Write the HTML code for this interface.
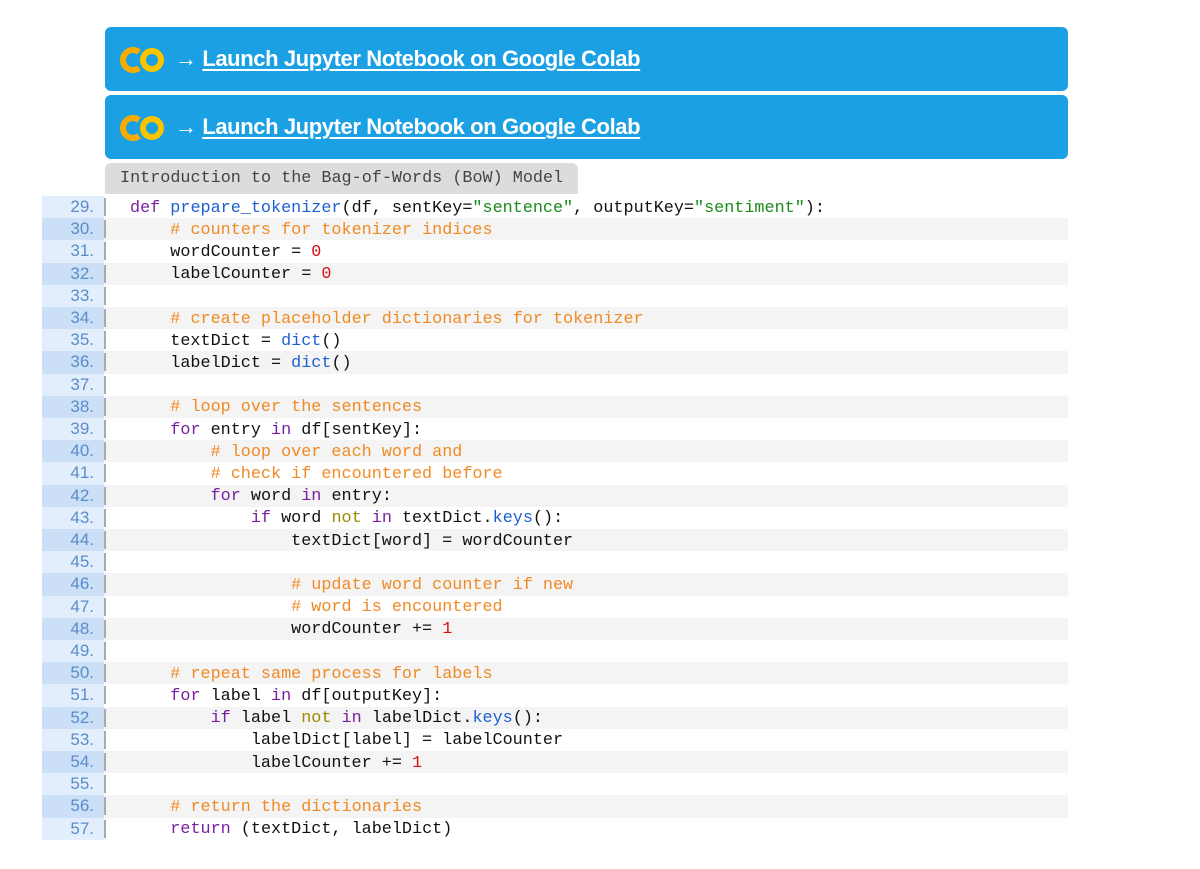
<!DOCTYPE html>
<html><head><meta charset="utf-8"><style>
body{margin:0;width:1200px;height:869px;background:#fff;position:relative;overflow:hidden;font-family:"Liberation Sans",sans-serif}
.bn{position:absolute;left:105px;width:963px;height:64px;background:#1ba0e4;border-radius:6px}
.bn svg{position:absolute;left:14px;top:19px}
.bn .t{position:absolute;left:70px;top:19px;color:#fff;font-weight:bold;font-size:22px;letter-spacing:-0.4px}
.bn .t u{text-decoration-thickness:2px;text-underline-offset:3px}
.tab{position:absolute;left:105px;top:163px;width:473px;height:31px;background:#dcdcdc;border-radius:6px 6px 0 0;font-family:"Liberation Mono",monospace;font-size:16.8px;color:#444;line-height:31px;padding-left:15px;box-sizing:border-box}
.r{position:absolute;left:42px;width:1026px;height:22.2px;font-family:"Liberation Mono",monospace;font-size:16.8px;line-height:22.2px;white-space:pre;color:#111}
.r .g{position:absolute;left:0;top:0;width:62px;height:100%;background:#e2eefb;color:#5a8cc8;text-align:right;box-sizing:border-box;padding-right:10px;font-family:"Liberation Sans",sans-serif;font-size:17px}
.r .b{position:absolute;left:62px;top:2px;width:1.5px;height:18px;background:#aaa}
.r .c{position:absolute;left:88px;top:1.5px}
.r.e{background:#f4f4f4}
.r.e .g{background:#cbe0f6}
.k{color:#7b1fa2}.f{color:#1d5fd0}.s{color:#1a8a1a}.m{color:#f08a24}.n{color:#d81010}.o{color:#9a8a00}
</style></head><body>
<div class="bn" style="top:27px"><svg width="48" height="28" viewBox="0 0 48 28"><path d="M20 6 A10 10 0 1 0 20 22" fill="none" stroke="#f9ab00" stroke-width="6"/><circle cx="33" cy="14" r="9" fill="none" stroke="#f9c400" stroke-width="6"/></svg><div class="t">→ <u>Launch Jupyter Notebook on Google Colab</u></div></div>
<div class="bn" style="top:95px"><svg width="48" height="28" viewBox="0 0 48 28"><path d="M20 6 A10 10 0 1 0 20 22" fill="none" stroke="#f9ab00" stroke-width="6"/><circle cx="33" cy="14" r="9" fill="none" stroke="#f9c400" stroke-width="6"/></svg><div class="t">→ <u>Launch Jupyter Notebook on Google Colab</u></div></div>
<div class="tab">Introduction to the Bag-of-Words (BoW) Model</div>

<div class="r" style="top:196px"><div class="g">29.</div><div class="b"></div><div class="c"><span class="k">def</span> <span class="f">prepare_tokenizer</span>(df, sentKey=<span class="s">"sentence"</span>, outputKey=<span class="s">"sentiment"</span>):</div></div>
<div class="r e" style="top:218.2px"><div class="g">30.</div><div class="b"></div><div class="c">    <span class="m"># counters for tokenizer indices</span></div></div>
<div class="r" style="top:240.4px"><div class="g">31.</div><div class="b"></div><div class="c">    wordCounter = <span class="n">0</span></div></div>
<div class="r e" style="top:262.6px"><div class="g">32.</div><div class="b"></div><div class="c">    labelCounter = <span class="n">0</span></div></div>
<div class="r" style="top:284.8px"><div class="g">33.</div><div class="b"></div><div class="c"></div></div>
<div class="r e" style="top:307px"><div class="g">34.</div><div class="b"></div><div class="c">    <span class="m"># create placeholder dictionaries for tokenizer</span></div></div>
<div class="r" style="top:329.2px"><div class="g">35.</div><div class="b"></div><div class="c">    textDict = <span class="f">dict</span>()</div></div>
<div class="r e" style="top:351.4px"><div class="g">36.</div><div class="b"></div><div class="c">    labelDict = <span class="f">dict</span>()</div></div>
<div class="r" style="top:373.6px"><div class="g">37.</div><div class="b"></div><div class="c"></div></div>
<div class="r e" style="top:395.8px"><div class="g">38.</div><div class="b"></div><div class="c">    <span class="m"># loop over the sentences</span></div></div>
<div class="r" style="top:418px"><div class="g">39.</div><div class="b"></div><div class="c">    <span class="k">for</span> entry <span class="k">in</span> df[sentKey]:</div></div>
<div class="r e" style="top:440.2px"><div class="g">40.</div><div class="b"></div><div class="c">        <span class="m"># loop over each word and</span></div></div>
<div class="r" style="top:462.4px"><div class="g">41.</div><div class="b"></div><div class="c">        <span class="m"># check if encountered before</span></div></div>
<div class="r e" style="top:484.6px"><div class="g">42.</div><div class="b"></div><div class="c">        <span class="k">for</span> word <span class="k">in</span> entry:</div></div>
<div class="r" style="top:506.8px"><div class="g">43.</div><div class="b"></div><div class="c">            <span class="k">if</span> word <span class="o">not</span> <span class="k">in</span> textDict.<span class="f">keys</span>():</div></div>
<div class="r e" style="top:529px"><div class="g">44.</div><div class="b"></div><div class="c">                textDict[word] = wordCounter</div></div>
<div class="r" style="top:551.2px"><div class="g">45.</div><div class="b"></div><div class="c"></div></div>
<div class="r e" style="top:573.4px"><div class="g">46.</div><div class="b"></div><div class="c">                <span class="m"># update word counter if new</span></div></div>
<div class="r" style="top:595.6px"><div class="g">47.</div><div class="b"></div><div class="c">                <span class="m"># word is encountered</span></div></div>
<div class="r e" style="top:617.8px"><div class="g">48.</div><div class="b"></div><div class="c">                wordCounter += <span class="n">1</span></div></div>
<div class="r" style="top:640px"><div class="g">49.</div><div class="b"></div><div class="c"></div></div>
<div class="r e" style="top:662.2px"><div class="g">50.</div><div class="b"></div><div class="c">    <span class="m"># repeat same process for labels</span></div></div>
<div class="r" style="top:684.4px"><div class="g">51.</div><div class="b"></div><div class="c">    <span class="k">for</span> label <span class="k">in</span> df[outputKey]:</div></div>
<div class="r e" style="top:706.6px"><div class="g">52.</div><div class="b"></div><div class="c">        <span class="k">if</span> label <span class="o">not</span> <span class="k">in</span> labelDict.<span class="f">keys</span>():</div></div>
<div class="r" style="top:728.8px"><div class="g">53.</div><div class="b"></div><div class="c">            labelDict[label] = labelCounter</div></div>
<div class="r e" style="top:751px"><div class="g">54.</div><div class="b"></div><div class="c">            labelCounter += <span class="n">1</span></div></div>
<div class="r" style="top:773.2px"><div class="g">55.</div><div class="b"></div><div class="c"></div></div>
<div class="r e" style="top:795.4px"><div class="g">56.</div><div class="b"></div><div class="c">    <span class="m"># return the dictionaries</span></div></div>
<div class="r" style="top:817.6px"><div class="g">57.</div><div class="b"></div><div class="c">    <span class="k">return</span> (textDict, labelDict)</div></div>
</body></html>
